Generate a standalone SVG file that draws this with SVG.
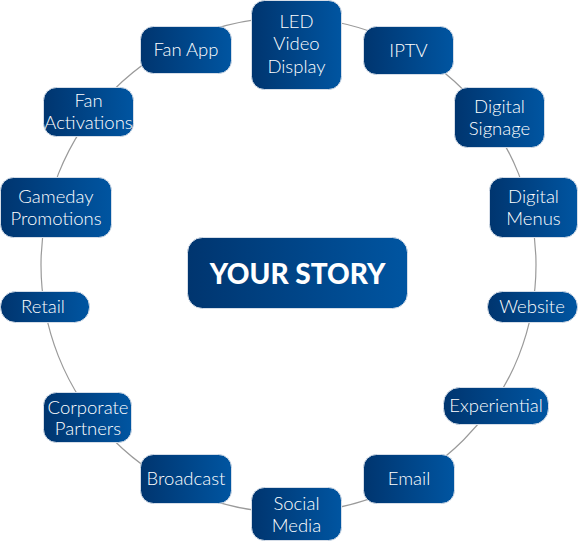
<svg xmlns="http://www.w3.org/2000/svg" width="578" height="542" viewBox="0 0 578 542">
<defs>
<linearGradient id="g" x1="0" y1="0" x2="1" y2="0">
<stop offset="0" stop-color="#00356f"/>
<stop offset="1" stop-color="#0055a1"/>
</linearGradient>
<style>
.n{fill:url(#g);stroke:#d5dde8;stroke-width:1}
.t{font-family:Lato,"Liberation Sans",sans-serif;font-size:18.5px;font-weight:300;fill:#fff;text-anchor:middle}
.b{font-family:Lato,"Liberation Sans",sans-serif;font-size:28px;font-weight:900;fill:#fff;text-anchor:middle}
</style>
</defs>
<rect width="578" height="542" fill="#fff"/>
<g id="connectors">
<circle cx="288.5" cy="265" r="247.5" fill="none" stroke="#9a9a9a" stroke-width="1.2"/>
</g>
<g id="center"><rect class="n" x="187.5" y="237.5" width="220" height="71" rx="15"/><text class="b" x="297.5" y="284">YOUR STORY</text></g>
<g id="led"><rect class="n" x="251.5" y="0.5" width="90" height="89" rx="13"/><text class="t" x="296.5" y="28">LED</text><text class="t" x="296.5" y="50">Video</text><text class="t" x="296.5" y="73">Display</text></g>
<g id="iptv"><rect class="n" x="363.5" y="26.5" width="90" height="48" rx="13"/><text class="t" x="408.5" y="57">IPTV</text></g>
<g id="fanapp"><rect class="n" x="140.5" y="26.5" width="91" height="47" rx="13"/><text class="t" x="186" y="56">Fan App</text></g>
<g id="fanact"><rect class="n" x="43.5" y="87.5" width="90" height="49" rx="13"/><text class="t" x="88.5" y="107">Fan</text><text class="t" x="88.5" y="129">Activations</text></g>
<g id="signage"><rect class="n" x="454.5" y="87.5" width="90" height="60" rx="13"/><text class="t" x="499.5" y="113">Digital</text><text class="t" x="499.5" y="135">Signage</text></g>
<g id="gameday"><rect class="n" x="0.5" y="177.5" width="111" height="60" rx="13"/><text class="t" x="56" y="203">Gameday</text><text class="t" x="56" y="225">Promotions</text></g>
<g id="menus"><rect class="n" x="489.5" y="177.5" width="88" height="60" rx="13"/><text class="t" x="533.5" y="203">Digital</text><text class="t" x="533.5" y="225">Menus</text></g>
<g id="retail"><rect class="n" x="0.5" y="291.5" width="89" height="31" rx="15"/><text class="t" x="43" y="313">Retail</text></g>
<g id="website"><rect class="n" x="487.5" y="291.5" width="90" height="31" rx="15"/><text class="t" x="532" y="313">Website</text></g>
<g id="corporate"><rect class="n" x="43.5" y="392.5" width="88" height="50" rx="13"/><text class="t" x="88" y="414">Corporate</text><text class="t" x="88" y="435">Partners</text></g>
<g id="experiential"><rect class="n" x="443.5" y="387.5" width="105" height="37" rx="16"/><text class="t" x="496" y="412">Experiential</text></g>
<g id="broadcast"><rect class="n" x="140.5" y="454.5" width="91" height="49" rx="13"/><text class="t" x="186" y="485">Broadcast</text></g>
<g id="email"><rect class="n" x="363.5" y="454.5" width="91" height="49" rx="13"/><text class="t" x="409" y="485">Email</text></g>
<g id="social"><rect class="n" x="251.5" y="487.5" width="90" height="53" rx="13"/><text class="t" x="296.5" y="510">Social</text><text class="t" x="296.5" y="532">Media</text></g>
</svg>
